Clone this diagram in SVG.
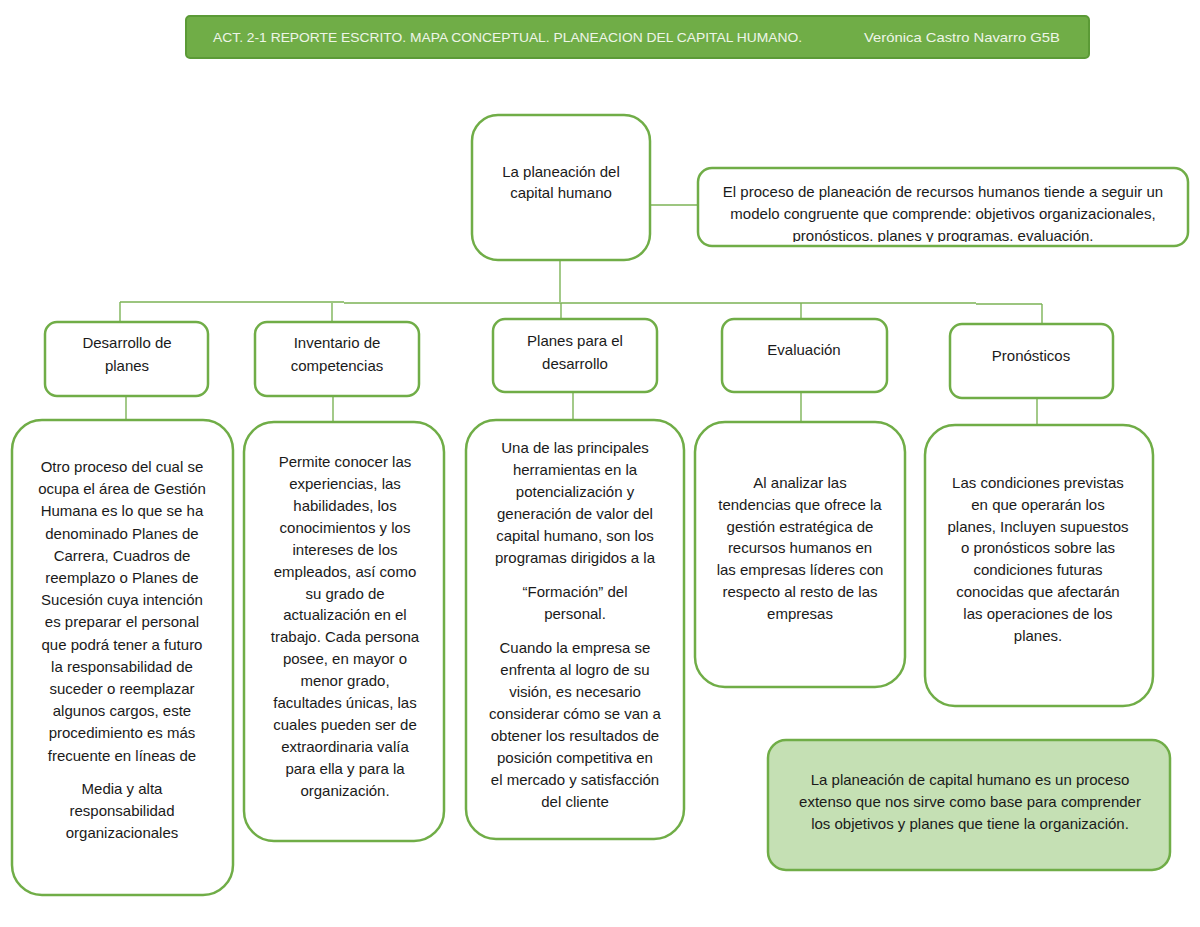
<svg xmlns="http://www.w3.org/2000/svg" width="1200" height="927" viewBox="0 0 1200 927">
<style>
.box{fill:#ffffff;stroke:#70AD47;stroke-width:2.5}
.sum{fill:#C5E0B4;stroke:#70AD47;stroke-width:2.5}
.bar{fill:#70AD47;stroke:#5b9a36;stroke-width:2}
.c{fill:none;stroke:#7cb356;stroke-width:1.4}
.t{font-family:"Liberation Sans",Arial,sans-serif;font-size:15px;fill:#1a1a1a;text-anchor:middle}
.h{font-family:"Liberation Sans",Arial,sans-serif;font-size:13.5px;fill:#eef5e8}
</style>
<defs>
<clipPath id="clipR"><rect x="700" y="170" width="486" height="72"/></clipPath>
</defs>
<rect width="1200" height="927" fill="#ffffff"/>

<g id="title">
<rect class="bar" x="186" y="16" width="903" height="42" rx="4"/>
<text class="h" x="213" y="42" textLength="589" lengthAdjust="spacingAndGlyphs">ACT. 2-1 REPORTE ESCRITO. MAPA CONCEPTUAL. PLANEACION DEL CAPITAL HUMANO.</text>
<text class="h" x="864" y="42" textLength="196" lengthAdjust="spacingAndGlyphs">Verónica Castro Navarro G5B</text>
</g>

<g id="connectors">
<path class="c" d="M650 205 H698"/>
<path class="c" d="M560 260 V302"/>
<path class="c" d="M120 302 H344 M344 303 H976 M976 304 H1042"/>
<path class="c" d="M120 302 V322"/>
<path class="c" d="M332 303 V322"/>
<path class="c" d="M561 303 V319"/>
<path class="c" d="M801 303 V319"/>
<path class="c" d="M1042 304 V324"/>
<path class="c" d="M126 396 V420"/>
<path class="c" d="M333 396 V422"/>
<path class="c" d="M573 392 V420"/>
<path class="c" d="M801 392 V422"/>
<path class="c" d="M1037 398 V425"/>
</g>

<g id="n-central">
<rect class="box" x="472" y="115" width="178" height="145" rx="26"/>
<text class="t" x="561" y="177">La planeación del</text>
<text class="t" x="561" y="198">capital humano</text>
</g>

<g id="n-modelo">
<rect class="box" x="698" y="168" width="490" height="78" rx="14"/>
<g clip-path="url(#clipR)">
<text class="t" x="943" y="197">El proceso de planeación de recursos humanos tiende a seguir un</text>
<text class="t" x="943" y="219">modelo congruente que comprende: objetivos organizacionales,</text>
<text class="t" x="943" y="241">pronósticos. planes y programas. evaluación.</text>
</g>
</g>

<g id="n-desarrollo">
<rect class="box" x="45" y="322" width="163" height="74" rx="12"/>
<text class="t" x="127" y="348">Desarrollo de</text>
<text class="t" x="127" y="371">planes</text>
</g>

<g id="n-inventario">
<rect class="box" x="255" y="322" width="164" height="74" rx="12"/>
<text class="t" x="337" y="348">Inventario de</text>
<text class="t" x="337" y="371">competencias</text>
</g>

<g id="n-planes">
<rect class="box" x="493" y="319" width="164" height="73" rx="12"/>
<text class="t" x="575" y="346">Planes para el</text>
<text class="t" x="575" y="369">desarrollo</text>
</g>

<g id="n-evaluacion">
<rect class="box" x="722" y="319" width="165" height="73" rx="12"/>
<text class="t" x="804" y="355">Evaluación</text>
</g>

<g id="n-pronosticos">
<rect class="box" x="950" y="324" width="163" height="74" rx="12"/>
<text class="t" x="1031" y="361">Pronósticos</text>
</g>

<g id="n-desc1">
<rect class="box" x="12" y="420" width="221" height="475" rx="30"/>
<text class="t" x="122" y="472">Otro proceso del cual se</text>
<text class="t" x="122" y="494">ocupa el área de Gestión</text>
<text class="t" x="122" y="516">Humana es lo que se ha</text>
<text class="t" x="122" y="539">denominado Planes de</text>
<text class="t" x="122" y="561">Carrera, Cuadros de</text>
<text class="t" x="122" y="583">reemplazo o Planes de</text>
<text class="t" x="122" y="605">Sucesión cuya intención</text>
<text class="t" x="122" y="627">es preparar el personal</text>
<text class="t" x="122" y="650">que podrá tener a futuro</text>
<text class="t" x="122" y="672">la responsabilidad de</text>
<text class="t" x="122" y="694">suceder o reemplazar</text>
<text class="t" x="122" y="716">algunos cargos, este</text>
<text class="t" x="122" y="738">procedimiento es más</text>
<text class="t" x="122" y="761">frecuente en líneas de</text>
<text class="t" x="122" y="794">Media y alta</text>
<text class="t" x="122" y="816">responsabilidad</text>
<text class="t" x="122" y="838">organizacionales</text>
</g>

<g id="n-desc2">
<rect class="box" x="244" y="422" width="200" height="419" rx="30"/>
<text class="t" x="345" y="467">Permite conocer las</text>
<text class="t" x="345" y="489">experiencias, las</text>
<text class="t" x="345" y="511">habilidades, los</text>
<text class="t" x="345" y="533">conocimientos y los</text>
<text class="t" x="345" y="555">intereses de los</text>
<text class="t" x="345" y="577">empleados, así como</text>
<text class="t" x="345" y="599">su grado de</text>
<text class="t" x="345" y="620">actualización en el</text>
<text class="t" x="345" y="642">trabajo. Cada persona</text>
<text class="t" x="345" y="664">posee, en mayor o</text>
<text class="t" x="345" y="686">menor grado,</text>
<text class="t" x="345" y="708">facultades únicas, las</text>
<text class="t" x="345" y="730">cuales pueden ser de</text>
<text class="t" x="345" y="752">extraordinaria valía</text>
<text class="t" x="345" y="774">para ella y para la</text>
<text class="t" x="345" y="796">organización.</text>
</g>

<g id="n-desc3">
<rect class="box" x="466" y="420" width="218" height="419" rx="30"/>
<text class="t" x="575" y="453">Una de las principales</text>
<text class="t" x="575" y="475">herramientas en la</text>
<text class="t" x="575" y="497">potencialización y</text>
<text class="t" x="575" y="519">generación de valor del</text>
<text class="t" x="575" y="541">capital humano, son los</text>
<text class="t" x="575" y="563">programas dirigidos a la</text>
<text class="t" x="575" y="597">“Formación” del</text>
<text class="t" x="575" y="619">personal.</text>
<text class="t" x="575" y="653">Cuando la empresa se</text>
<text class="t" x="575" y="675">enfrenta al logro de su</text>
<text class="t" x="575" y="697">visión, es necesario</text>
<text class="t" x="575" y="719">considerar cómo se van a</text>
<text class="t" x="575" y="741">obtener los resultados de</text>
<text class="t" x="575" y="763">posición competitiva en</text>
<text class="t" x="575" y="785">el mercado y satisfacción</text>
<text class="t" x="575" y="807">del cliente</text>
</g>

<g id="n-desc4">
<rect class="box" x="695" y="422" width="210" height="265" rx="30"/>
<text class="t" x="800" y="488">Al analizar las</text>
<text class="t" x="800" y="510">tendencias que ofrece la</text>
<text class="t" x="800" y="532">gestión estratégica de</text>
<text class="t" x="800" y="553">recursos humanos en</text>
<text class="t" x="800" y="575">las empresas líderes con</text>
<text class="t" x="800" y="597">respecto al resto de las</text>
<text class="t" x="800" y="619">empresas</text>
</g>

<g id="n-desc5">
<rect class="box" x="925" y="425" width="228" height="281" rx="30"/>
<text class="t" x="1038" y="488">Las condiciones previstas</text>
<text class="t" x="1038" y="510">en que operarán los</text>
<text class="t" x="1038" y="532">planes, Incluyen supuestos</text>
<text class="t" x="1038" y="553">o pronósticos sobre las</text>
<text class="t" x="1038" y="575">condiciones futuras</text>
<text class="t" x="1038" y="597">conocidas que afectarán</text>
<text class="t" x="1038" y="619">las operaciones de los</text>
<text class="t" x="1038" y="641">planes.</text>
</g>

<g id="n-resumen">
<rect class="sum" x="768" y="740" width="402" height="130" rx="18"/>
<text class="t" x="970" y="785">La planeación de capital humano es un proceso</text>
<text class="t" x="970" y="807">extenso que nos sirve como base para comprender</text>
<text class="t" x="970" y="829">los objetivos y planes que tiene la organización.</text>
</g>
</svg>
